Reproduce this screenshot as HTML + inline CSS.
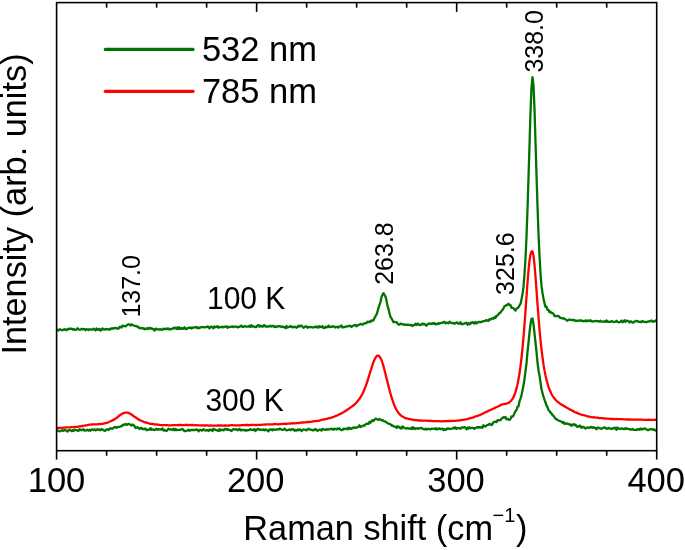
<!DOCTYPE html>
<html><head><meta charset="utf-8"><title>Raman spectra</title>
<style>
html,body{margin:0;padding:0;background:#fff;}
svg{display:block;}
text{font-family:"Liberation Sans",sans-serif;fill:#000;}
</style></head><body>
<svg width="685" height="550" viewBox="0 0 685 550">
<rect x="0" y="0" width="685" height="550" fill="#fff"/>
<clipPath id="plot"><rect x="56.5" y="2.6" width="600.2" height="448"/></clipPath>
<g fill="none" stroke-linejoin="round" stroke-linecap="round" stroke-width="2.3" clip-path="url(#plot)">
<path stroke="#007300" d="M56.5,430.2 L57.5,430.7 L58.5,430.7 L59.5,431.4 L60.5,431.0 L61.5,430.5 L62.5,430.5 L63.5,430.8 L64.5,429.9 L65.5,430.3 L66.5,430.8 L67.5,431.5 L68.5,430.2 L69.5,430.2 L70.5,430.4 L71.5,431.1 L72.5,430.2 L73.5,431.1 L74.5,429.6 L75.5,430.1 L76.5,430.1 L77.5,430.7 L78.5,430.8 L79.5,429.2 L80.5,429.6 L81.5,430.3 L82.5,429.7 L83.5,429.2 L84.5,430.7 L85.5,430.4 L86.5,430.4 L87.5,429.7 L88.5,430.7 L89.5,429.8 L90.5,430.7 L91.5,429.4 L92.5,429.4 L93.5,430.0 L94.5,429.4 L95.5,430.3 L96.5,430.0 L97.5,429.2 L98.5,429.8 L99.5,429.5 L100.5,430.2 L101.5,429.2 L102.5,429.3 L103.5,430.2 L104.5,430.8 L105.5,430.6 L106.5,429.3 L107.5,429.3 L108.5,430.0 L109.5,428.9 L110.5,428.2 L111.5,428.7 L112.5,428.8 L113.5,427.8 L114.5,427.1 L115.5,427.0 L116.5,428.0 L117.5,426.9 L118.5,426.9 L119.5,426.8 L120.5,426.7 L121.5,425.7 L122.5,425.8 L123.5,424.6 L124.5,424.6 L125.5,423.9 L126.5,425.1 L127.5,424.3 L128.5,423.9 L129.5,424.3 L130.5,424.7 L131.5,425.6 L132.5,424.5 L133.5,425.2 L134.5,426.0 L135.5,428.0 L136.5,427.6 L137.5,427.2 L138.5,428.0 L139.5,429.1 L140.5,427.9 L141.5,428.0 L142.5,429.2 L143.5,428.9 L144.5,429.1 L145.5,428.5 L146.5,430.2 L147.5,430.1 L148.5,429.5 L149.5,429.7 L150.5,428.1 L151.5,429.8 L152.5,429.3 L153.5,429.8 L154.5,430.0 L155.5,429.4 L156.5,428.6 L157.5,429.9 L158.5,429.2 L159.5,429.5 L160.5,429.4 L161.5,429.6 L162.5,428.4 L163.5,430.6 L164.5,430.0 L165.5,430.5 L166.5,431.1 L167.5,429.9 L168.5,428.8 L169.5,429.3 L170.5,429.2 L171.5,429.6 L172.5,430.0 L173.5,428.7 L174.5,430.2 L175.5,429.0 L176.5,430.2 L177.5,429.9 L178.5,429.8 L179.5,429.9 L180.5,429.7 L181.5,429.6 L182.5,429.0 L183.5,430.0 L184.5,431.2 L185.5,431.2 L186.5,430.8 L187.5,430.5 L188.5,429.6 L189.5,430.9 L190.5,430.0 L191.5,430.0 L192.5,429.8 L193.5,430.1 L194.5,429.8 L195.5,430.0 L196.5,429.4 L197.5,429.8 L198.5,431.4 L199.5,430.0 L200.5,429.9 L201.5,430.4 L202.5,430.5 L203.5,429.3 L204.5,429.9 L205.5,430.6 L206.5,430.2 L207.5,430.1 L208.5,431.0 L209.5,429.6 L210.5,430.1 L211.5,429.7 L212.5,431.0 L213.5,428.8 L214.5,429.6 L215.5,429.7 L216.5,430.4 L217.5,430.4 L218.5,430.9 L219.5,429.1 L220.5,430.5 L221.5,429.8 L222.5,429.6 L223.5,430.4 L224.5,429.4 L225.5,428.7 L226.5,429.8 L227.5,429.1 L228.5,429.6 L229.5,430.2 L230.5,430.2 L231.5,431.0 L232.5,429.9 L233.5,429.1 L234.5,429.5 L235.5,429.4 L236.5,429.2 L237.5,430.3 L238.5,429.6 L239.5,428.8 L240.5,430.4 L241.5,429.9 L242.5,430.2 L243.5,430.0 L244.5,430.4 L245.5,430.0 L246.5,430.7 L247.5,430.2 L248.5,430.2 L249.5,430.2 L250.5,429.1 L251.5,429.9 L252.5,429.8 L253.5,430.1 L254.5,429.1 L255.5,431.0 L256.5,430.0 L257.5,429.2 L258.5,428.9 L259.5,429.8 L260.5,429.9 L261.5,429.5 L262.5,430.0 L263.5,429.5 L264.5,430.3 L265.5,429.5 L266.5,429.9 L267.5,430.5 L268.5,431.3 L269.5,429.3 L270.5,429.6 L271.5,429.4 L272.5,430.4 L273.5,429.2 L274.5,429.6 L275.5,429.9 L276.5,429.3 L277.5,429.3 L278.5,429.6 L279.5,428.6 L280.5,429.0 L281.5,429.6 L282.5,429.9 L283.5,429.7 L284.5,428.7 L285.5,429.6 L286.5,430.3 L287.5,430.2 L288.5,429.8 L289.5,429.3 L290.5,430.2 L291.5,429.5 L292.5,429.1 L293.5,429.3 L294.5,430.7 L295.5,429.9 L296.5,430.5 L297.5,429.5 L298.5,430.3 L299.5,429.4 L300.5,429.7 L301.5,431.1 L302.5,430.2 L303.5,429.4 L304.5,429.7 L305.5,429.9 L306.5,430.4 L307.5,429.4 L308.5,428.6 L309.5,429.5 L310.5,429.7 L311.5,429.7 L312.5,430.4 L313.5,429.8 L314.5,430.1 L315.5,428.9 L316.5,430.1 L317.5,430.9 L318.5,430.0 L319.5,429.7 L320.5,429.6 L321.5,430.6 L322.5,428.9 L323.5,429.4 L324.5,429.7 L325.5,429.9 L326.5,429.1 L327.5,429.6 L328.5,429.2 L329.5,429.4 L330.5,429.2 L331.5,428.6 L332.5,429.2 L333.5,429.8 L334.5,428.6 L335.5,429.0 L336.5,429.5 L337.5,428.4 L338.5,429.1 L339.5,428.3 L340.5,429.6 L341.5,430.2 L342.5,430.1 L343.5,428.6 L344.5,429.1 L345.5,428.7 L346.5,428.6 L347.5,429.4 L348.5,427.6 L349.5,428.9 L350.5,428.1 L351.5,428.9 L352.5,428.0 L353.5,427.4 L354.5,427.8 L355.5,427.9 L356.5,427.3 L357.5,427.4 L358.5,426.6 L359.5,425.3 L360.5,427.0 L361.5,426.6 L362.5,425.9 L363.5,425.5 L364.5,425.7 L365.5,424.4 L366.5,423.8 L367.5,423.6 L368.5,423.9 L369.5,421.8 L370.5,422.8 L371.5,421.1 L372.5,420.2 L373.5,421.1 L374.5,419.8 L375.5,418.7 L376.5,418.9 L377.5,419.6 L378.5,419.8 L379.5,418.9 L380.5,419.7 L381.5,420.3 L382.5,419.9 L383.5,421.1 L384.5,421.4 L385.5,421.7 L386.5,422.3 L387.5,423.2 L388.5,423.6 L389.5,423.8 L390.5,424.3 L391.5,425.7 L392.5,425.5 L393.5,426.2 L394.5,426.7 L395.5,426.6 L396.5,427.9 L397.5,426.2 L398.5,427.4 L399.5,426.9 L400.5,428.4 L401.5,428.5 L402.5,426.4 L403.5,427.1 L404.5,428.2 L405.5,428.4 L406.5,428.5 L407.5,428.0 L408.5,428.5 L409.5,428.6 L410.5,428.3 L411.5,429.0 L412.5,427.1 L413.5,428.9 L414.5,427.9 L415.5,429.1 L416.5,428.4 L417.5,428.1 L418.5,428.9 L419.5,428.1 L420.5,428.1 L421.5,427.8 L422.5,428.7 L423.5,429.1 L424.5,429.4 L425.5,428.7 L426.5,429.5 L427.5,428.8 L428.5,428.8 L429.5,429.2 L430.5,429.5 L431.5,428.6 L432.5,428.7 L433.5,428.8 L434.5,428.9 L435.5,428.3 L436.5,429.5 L437.5,428.6 L438.5,429.1 L439.5,428.3 L440.5,429.1 L441.5,429.1 L442.5,428.6 L443.5,430.1 L444.5,429.0 L445.5,429.9 L446.5,429.4 L447.5,428.4 L448.5,428.5 L449.5,429.0 L450.5,428.8 L451.5,428.7 L452.5,428.5 L453.5,427.6 L454.5,428.5 L455.5,427.3 L456.5,428.8 L457.5,428.1 L458.5,428.1 L459.5,428.4 L460.5,428.7 L461.5,427.6 L462.5,427.3 L463.5,427.7 L464.5,427.1 L465.5,427.7 L466.5,429.3 L467.5,427.6 L468.5,428.6 L469.5,427.3 L470.5,428.3 L471.5,427.8 L472.5,427.9 L473.5,428.2 L474.5,428.9 L475.5,427.8 L476.5,427.7 L477.5,426.9 L478.5,427.7 L479.5,427.1 L480.5,427.6 L481.5,426.9 L482.5,427.8 L483.5,425.3 L484.5,426.1 L485.5,426.5 L486.5,425.5 L487.5,424.9 L488.5,424.8 L489.5,423.8 L490.5,424.3 L491.5,425.2 L492.5,424.1 L493.5,422.2 L494.5,421.9 L495.5,421.7 L496.5,422.1 L497.5,420.4 L498.5,420.0 L499.5,420.5 L500.5,420.0 L501.5,418.8 L502.5,417.9 L503.5,417.2 L504.5,417.6 L505.5,417.0 L506.5,419.4 L507.5,418.8 L508.5,419.5 L509.5,420.0 L510.5,418.9 L511.5,416.5 L512.5,416.7 L513.5,415.6 L514.5,413.1 L515.5,411.3 L516.5,410.0 L517.5,406.9 L518.5,406.4 L519.5,401.2 L520.5,398.6 L521.5,395.1 L522.5,390.5 L523.5,385.3 L524.5,379.0 L525.5,371.2 L526.5,363.4 L527.5,351.8 L528.5,342.9 L529.5,332.4 L530.5,324.3 L531.5,319.0 L532.5,318.4 L533.5,324.1 L534.5,333.3 L535.5,342.6 L536.5,351.6 L537.5,362.3 L538.5,370.5 L539.5,375.4 L540.5,382.7 L541.5,389.3 L542.5,393.0 L543.5,396.6 L544.5,399.7 L545.5,402.5 L546.5,405.2 L547.5,407.2 L548.5,410.0 L549.5,411.0 L550.5,412.5 L551.5,413.3 L552.5,415.2 L553.5,415.8 L554.5,417.2 L555.5,418.8 L556.5,419.1 L557.5,419.9 L558.5,420.5 L559.5,420.9 L560.5,421.3 L561.5,421.7 L562.5,422.8 L563.5,422.0 L564.5,423.9 L565.5,423.5 L566.5,423.3 L567.5,423.8 L568.5,423.9 L569.5,424.7 L570.5,424.4 L571.5,425.8 L572.5,424.8 L573.5,424.1 L574.5,425.2 L575.5,424.6 L576.5,426.0 L577.5,426.8 L578.5,426.7 L579.5,425.6 L580.5,426.1 L581.5,427.8 L582.5,427.0 L583.5,426.9 L584.5,427.7 L585.5,428.5 L586.5,428.0 L587.5,427.4 L588.5,427.6 L589.5,427.9 L590.5,427.2 L591.5,427.0 L592.5,427.8 L593.5,427.2 L594.5,427.8 L595.5,428.0 L596.5,429.3 L597.5,427.5 L598.5,428.0 L599.5,428.0 L600.5,428.5 L601.5,428.9 L602.5,428.0 L603.5,427.8 L604.5,427.4 L605.5,427.9 L606.5,428.8 L607.5,428.5 L608.5,427.9 L609.5,428.4 L610.5,428.6 L611.5,429.0 L612.5,428.3 L613.5,428.6 L614.5,427.6 L615.5,428.1 L616.5,429.8 L617.5,427.5 L618.5,428.7 L619.5,429.0 L620.5,428.7 L621.5,428.4 L622.5,428.9 L623.5,429.0 L624.5,429.0 L625.5,427.9 L626.5,429.0 L627.5,428.6 L628.5,428.8 L629.5,429.3 L630.5,429.5 L631.5,429.7 L632.5,428.9 L633.5,429.8 L634.5,429.9 L635.5,429.9 L636.5,430.1 L637.5,429.2 L638.5,429.2 L639.5,429.8 L640.5,428.5 L641.5,429.5 L642.5,429.0 L643.5,429.1 L644.5,428.3 L645.5,428.8 L646.5,429.4 L647.5,430.0 L648.5,430.0 L649.5,429.4 L650.5,429.3 L651.5,428.9 L652.5,429.7 L653.5,429.3 L654.5,429.9 L655.5,430.6 L656.5,429.5"/>
<path stroke="#ff0000" d="M56.5,427.8 L57.5,427.8 L58.5,427.8 L59.5,427.8 L60.5,427.8 L61.5,427.8 L62.5,427.8 L63.5,427.7 L64.5,427.7 L65.5,427.5 L66.5,427.4 L67.5,427.4 L68.5,427.3 L69.5,427.3 L70.5,427.3 L71.5,427.1 L72.5,427.1 L73.5,427.1 L74.5,427.0 L75.5,426.9 L76.5,426.9 L77.5,426.8 L78.5,426.5 L79.5,426.3 L80.5,426.3 L81.5,426.1 L82.5,426.0 L83.5,425.9 L84.5,425.7 L85.5,425.4 L86.5,425.4 L87.5,425.2 L88.5,424.8 L89.5,424.7 L90.5,424.7 L91.5,424.5 L92.5,424.5 L93.5,424.4 L94.5,424.3 L95.5,424.3 L96.5,424.4 L97.5,424.3 L98.5,424.2 L99.5,424.2 L100.5,424.2 L101.5,424.0 L102.5,423.8 L103.5,423.6 L104.5,423.3 L105.5,423.1 L106.5,422.9 L107.5,422.6 L108.5,422.2 L109.5,421.8 L110.5,421.3 L111.5,420.9 L112.5,420.4 L113.5,419.9 L114.5,419.3 L115.5,418.6 L116.5,418.0 L117.5,417.2 L118.5,416.3 L119.5,415.5 L120.5,414.8 L121.5,414.2 L122.5,413.6 L123.5,413.1 L124.5,412.8 L125.5,412.6 L126.5,412.6 L127.5,412.6 L128.5,412.9 L129.5,413.3 L130.5,413.9 L131.5,414.5 L132.5,415.2 L133.5,416.0 L134.5,416.7 L135.5,417.3 L136.5,418.0 L137.5,418.7 L138.5,419.4 L139.5,419.9 L140.5,420.5 L141.5,420.8 L142.5,421.3 L143.5,421.8 L144.5,422.1 L145.5,422.5 L146.5,422.6 L147.5,422.8 L148.5,423.2 L149.5,423.6 L150.5,423.8 L151.5,423.9 L152.5,424.0 L153.5,424.2 L154.5,424.5 L155.5,424.5 L156.5,424.5 L157.5,424.6 L158.5,424.7 L159.5,425.0 L160.5,425.1 L161.5,425.1 L162.5,425.1 L163.5,425.1 L164.5,425.2 L165.5,425.2 L166.5,425.1 L167.5,425.2 L168.5,425.3 L169.5,425.3 L170.5,425.3 L171.5,425.3 L172.5,425.2 L173.5,425.2 L174.5,425.2 L175.5,425.1 L176.5,425.1 L177.5,425.1 L178.5,425.1 L179.5,425.0 L180.5,424.9 L181.5,425.0 L182.5,425.1 L183.5,425.1 L184.5,425.0 L185.5,424.8 L186.5,425.0 L187.5,425.0 L188.5,424.9 L189.5,425.1 L190.5,425.1 L191.5,425.0 L192.5,425.0 L193.5,425.1 L194.5,425.3 L195.5,425.2 L196.5,425.2 L197.5,425.3 L198.5,425.4 L199.5,425.4 L200.5,425.4 L201.5,425.5 L202.5,425.4 L203.5,425.4 L204.5,425.5 L205.5,425.5 L206.5,425.4 L207.5,425.4 L208.5,425.6 L209.5,425.7 L210.5,425.5 L211.5,425.6 L212.5,425.6 L213.5,425.6 L214.5,425.7 L215.5,425.7 L216.5,425.6 L217.5,425.5 L218.5,425.5 L219.5,425.5 L220.5,425.3 L221.5,425.5 L222.5,425.7 L223.5,425.6 L224.5,425.5 L225.5,425.5 L226.5,425.6 L227.5,425.6 L228.5,425.5 L229.5,425.3 L230.5,425.3 L231.5,425.2 L232.5,425.2 L233.5,425.3 L234.5,425.3 L235.5,425.3 L236.5,425.3 L237.5,425.4 L238.5,425.4 L239.5,425.3 L240.5,425.3 L241.5,425.2 L242.5,425.1 L243.5,425.2 L244.5,425.1 L245.5,425.0 L246.5,425.0 L247.5,425.0 L248.5,425.2 L249.5,425.1 L250.5,425.0 L251.5,424.9 L252.5,424.8 L253.5,424.8 L254.5,424.9 L255.5,425.1 L256.5,425.0 L257.5,424.8 L258.5,424.8 L259.5,424.8 L260.5,424.8 L261.5,424.8 L262.5,424.7 L263.5,424.7 L264.5,424.6 L265.5,424.5 L266.5,424.4 L267.5,424.4 L268.5,424.4 L269.5,424.4 L270.5,424.4 L271.5,424.3 L272.5,424.4 L273.5,424.3 L274.5,424.1 L275.5,424.1 L276.5,424.2 L277.5,424.3 L278.5,424.3 L279.5,424.1 L280.5,424.1 L281.5,424.0 L282.5,423.9 L283.5,423.9 L284.5,423.7 L285.5,423.8 L286.5,423.9 L287.5,423.7 L288.5,423.6 L289.5,423.6 L290.5,423.5 L291.5,423.4 L292.5,423.2 L293.5,423.3 L294.5,423.3 L295.5,423.3 L296.5,423.2 L297.5,423.2 L298.5,423.0 L299.5,422.8 L300.5,422.7 L301.5,422.5 L302.5,422.6 L303.5,422.5 L304.5,422.4 L305.5,422.4 L306.5,422.2 L307.5,422.0 L308.5,422.0 L309.5,421.8 L310.5,421.8 L311.5,421.7 L312.5,421.5 L313.5,421.3 L314.5,421.2 L315.5,421.1 L316.5,421.0 L317.5,420.9 L318.5,420.8 L319.5,420.5 L320.5,420.2 L321.5,420.0 L322.5,419.7 L323.5,419.5 L324.5,419.3 L325.5,419.1 L326.5,418.9 L327.5,418.7 L328.5,418.3 L329.5,418.0 L330.5,417.8 L331.5,417.6 L332.5,417.2 L333.5,416.9 L334.5,416.5 L335.5,416.0 L336.5,415.6 L337.5,415.3 L338.5,414.8 L339.5,414.2 L340.5,413.9 L341.5,413.3 L342.5,412.7 L343.5,412.2 L344.5,411.5 L345.5,410.9 L346.5,410.3 L347.5,409.5 L348.5,408.9 L349.5,408.2 L350.5,407.6 L351.5,406.9 L352.5,406.0 L353.5,405.3 L354.5,404.5 L355.5,403.6 L356.5,402.5 L357.5,401.3 L358.5,400.1 L359.5,398.8 L360.5,397.2 L361.5,395.5 L362.5,393.8 L363.5,391.5 L364.5,389.1 L365.5,386.6 L366.5,383.8 L367.5,380.8 L368.5,377.6 L369.5,374.3 L370.5,371.2 L371.5,368.0 L372.5,364.8 L373.5,362.0 L374.5,359.6 L375.5,357.7 L376.5,356.3 L377.5,355.6 L378.5,355.7 L379.5,356.5 L380.5,358.1 L381.5,360.1 L382.5,363.0 L383.5,366.4 L384.5,370.0 L385.5,374.1 L386.5,378.1 L387.5,382.0 L388.5,386.2 L389.5,390.1 L390.5,393.8 L391.5,397.2 L392.5,400.2 L393.5,403.0 L394.5,405.7 L395.5,408.0 L396.5,409.8 L397.5,411.4 L398.5,412.9 L399.5,414.0 L400.5,415.1 L401.5,416.0 L402.5,416.5 L403.5,417.1 L404.5,417.7 L405.5,418.2 L406.5,418.4 L407.5,418.7 L408.5,418.9 L409.5,419.1 L410.5,419.2 L411.5,419.5 L412.5,419.7 L413.5,419.8 L414.5,420.0 L415.5,420.1 L416.5,420.2 L417.5,420.4 L418.5,420.5 L419.5,420.4 L420.5,420.5 L421.5,420.6 L422.5,420.6 L423.5,420.6 L424.5,420.7 L425.5,420.7 L426.5,420.7 L427.5,420.9 L428.5,420.9 L429.5,420.9 L430.5,420.9 L431.5,421.0 L432.5,421.1 L433.5,421.1 L434.5,421.1 L435.5,421.1 L436.5,421.1 L437.5,421.3 L438.5,421.2 L439.5,421.1 L440.5,421.3 L441.5,421.3 L442.5,421.2 L443.5,421.2 L444.5,421.3 L445.5,421.1 L446.5,421.0 L447.5,421.1 L448.5,421.0 L449.5,421.0 L450.5,421.0 L451.5,421.0 L452.5,420.9 L453.5,420.9 L454.5,420.9 L455.5,420.8 L456.5,420.7 L457.5,420.7 L458.5,420.6 L459.5,420.4 L460.5,420.2 L461.5,420.1 L462.5,419.9 L463.5,419.9 L464.5,419.6 L465.5,419.4 L466.5,419.3 L467.5,419.0 L468.5,418.7 L469.5,418.5 L470.5,418.1 L471.5,417.9 L472.5,417.7 L473.5,417.4 L474.5,416.9 L475.5,416.5 L476.5,416.2 L477.5,415.9 L478.5,415.5 L479.5,415.2 L480.5,414.7 L481.5,414.3 L482.5,413.8 L483.5,413.3 L484.5,412.8 L485.5,412.3 L486.5,411.9 L487.5,411.4 L488.5,410.8 L489.5,410.4 L490.5,410.0 L491.5,409.5 L492.5,409.0 L493.5,408.5 L494.5,408.1 L495.5,407.6 L496.5,407.0 L497.5,406.6 L498.5,406.2 L499.5,405.7 L500.5,405.1 L501.5,404.6 L502.5,404.3 L503.5,404.2 L504.5,403.9 L505.5,403.8 L506.5,403.7 L507.5,403.3 L508.5,402.9 L509.5,402.3 L510.5,401.3 L511.5,400.2 L512.5,398.8 L513.5,397.1 L514.5,394.8 L515.5,391.9 L516.5,388.4 L517.5,384.3 L518.5,379.3 L519.5,373.3 L520.5,366.3 L521.5,358.0 L522.5,348.2 L523.5,337.1 L524.5,324.6 L525.5,311.0 L526.5,296.8 L527.5,282.8 L528.5,270.4 L529.5,260.6 L530.5,254.4 L531.5,251.5 L532.5,251.4 L533.5,255.8 L534.5,264.5 L535.5,276.5 L536.5,290.2 L537.5,304.0 L538.5,317.2 L539.5,329.3 L540.5,340.0 L541.5,349.4 L542.5,357.4 L543.5,364.4 L544.5,370.4 L545.5,375.4 L546.5,379.7 L547.5,383.4 L548.5,386.8 L549.5,389.5 L550.5,391.8 L551.5,394.0 L552.5,395.8 L553.5,397.2 L554.5,398.5 L555.5,399.8 L556.5,400.8 L557.5,401.7 L558.5,402.4 L559.5,403.2 L560.5,403.9 L561.5,404.6 L562.5,405.1 L563.5,405.7 L564.5,406.4 L565.5,406.9 L566.5,407.5 L567.5,408.0 L568.5,408.7 L569.5,409.3 L570.5,409.6 L571.5,410.2 L572.5,410.7 L573.5,411.3 L574.5,412.0 L575.5,412.3 L576.5,412.6 L577.5,413.1 L578.5,413.7 L579.5,414.0 L580.5,414.4 L581.5,414.6 L582.5,414.9 L583.5,415.1 L584.5,415.3 L585.5,415.7 L586.5,416.0 L587.5,416.3 L588.5,416.5 L589.5,416.6 L590.5,416.8 L591.5,417.1 L592.5,417.3 L593.5,417.2 L594.5,417.4 L595.5,417.7 L596.5,417.7 L597.5,417.7 L598.5,417.9 L599.5,418.1 L600.5,418.1 L601.5,418.1 L602.5,418.2 L603.5,418.4 L604.5,418.5 L605.5,418.6 L606.5,418.7 L607.5,418.6 L608.5,418.7 L609.5,418.9 L610.5,418.9 L611.5,419.0 L612.5,419.0 L613.5,418.9 L614.5,419.1 L615.5,419.1 L616.5,419.0 L617.5,419.1 L618.5,419.2 L619.5,419.2 L620.5,419.2 L621.5,419.2 L622.5,419.2 L623.5,419.3 L624.5,419.4 L625.5,419.3 L626.5,419.4 L627.5,419.5 L628.5,419.4 L629.5,419.5 L630.5,419.6 L631.5,419.5 L632.5,419.6 L633.5,419.7 L634.5,419.6 L635.5,419.7 L636.5,419.7 L637.5,419.7 L638.5,419.7 L639.5,419.7 L640.5,419.7 L641.5,419.7 L642.5,419.7 L643.5,419.8 L644.5,419.9 L645.5,419.8 L646.5,419.9 L647.5,419.9 L648.5,419.7 L649.5,419.8 L650.5,419.8 L651.5,419.8 L652.5,419.9 L653.5,419.8 L654.5,419.7 L655.5,419.8 L656.5,419.8"/>
<path stroke="#007300" d="M56.5,329.2 L57.5,329.8 L58.5,330.6 L59.5,329.5 L60.5,329.4 L61.5,330.1 L62.5,330.0 L63.5,329.8 L64.5,329.2 L65.5,329.7 L66.5,330.2 L67.5,328.9 L68.5,329.4 L69.5,328.5 L70.5,328.9 L71.5,328.6 L72.5,329.5 L73.5,328.9 L74.5,329.8 L75.5,329.8 L76.5,329.5 L77.5,328.3 L78.5,329.3 L79.5,329.6 L80.5,329.7 L81.5,328.7 L82.5,329.3 L83.5,329.0 L84.5,329.1 L85.5,330.2 L86.5,329.1 L87.5,329.5 L88.5,330.1 L89.5,329.2 L90.5,329.4 L91.5,329.6 L92.5,329.5 L93.5,328.7 L94.5,329.5 L95.5,330.3 L96.5,328.5 L97.5,329.9 L98.5,329.4 L99.5,328.9 L100.5,330.6 L101.5,329.8 L102.5,328.5 L103.5,329.3 L104.5,329.5 L105.5,329.0 L106.5,329.5 L107.5,329.0 L108.5,329.4 L109.5,329.8 L110.5,328.5 L111.5,328.9 L112.5,328.4 L113.5,328.7 L114.5,327.8 L115.5,328.0 L116.5,328.1 L117.5,328.7 L118.5,328.6 L119.5,326.9 L120.5,327.0 L121.5,327.6 L122.5,325.6 L123.5,326.2 L124.5,326.0 L125.5,326.4 L126.5,325.6 L127.5,324.7 L128.5,324.4 L129.5,324.3 L130.5,325.5 L131.5,324.4 L132.5,324.8 L133.5,325.6 L134.5,325.7 L135.5,326.1 L136.5,325.9 L137.5,327.0 L138.5,327.0 L139.5,328.3 L140.5,328.2 L141.5,328.0 L142.5,328.6 L143.5,328.2 L144.5,329.2 L145.5,328.6 L146.5,329.1 L147.5,328.0 L148.5,329.1 L149.5,327.9 L150.5,327.8 L151.5,328.9 L152.5,328.6 L153.5,329.3 L154.5,330.6 L155.5,328.7 L156.5,328.9 L157.5,329.4 L158.5,329.6 L159.5,329.2 L160.5,329.2 L161.5,329.8 L162.5,329.6 L163.5,328.6 L164.5,329.2 L165.5,329.2 L166.5,328.5 L167.5,329.2 L168.5,328.5 L169.5,329.6 L170.5,329.1 L171.5,329.0 L172.5,328.5 L173.5,328.7 L174.5,327.5 L175.5,328.0 L176.5,328.9 L177.5,327.3 L178.5,329.1 L179.5,327.4 L180.5,328.9 L181.5,327.9 L182.5,328.9 L183.5,328.4 L184.5,327.3 L185.5,329.0 L186.5,329.1 L187.5,328.1 L188.5,327.9 L189.5,327.9 L190.5,327.4 L191.5,328.6 L192.5,327.5 L193.5,327.8 L194.5,327.3 L195.5,327.3 L196.5,326.9 L197.5,328.4 L198.5,327.5 L199.5,328.1 L200.5,327.5 L201.5,327.0 L202.5,327.2 L203.5,327.1 L204.5,327.4 L205.5,327.2 L206.5,327.2 L207.5,326.5 L208.5,326.9 L209.5,328.4 L210.5,326.9 L211.5,326.7 L212.5,327.5 L213.5,328.2 L214.5,326.4 L215.5,327.1 L216.5,326.8 L217.5,326.1 L218.5,327.7 L219.5,327.2 L220.5,327.2 L221.5,326.7 L222.5,327.4 L223.5,326.8 L224.5,327.0 L225.5,326.4 L226.5,326.3 L227.5,327.8 L228.5,326.7 L229.5,327.1 L230.5,326.9 L231.5,326.6 L232.5,326.5 L233.5,327.2 L234.5,326.6 L235.5,326.6 L236.5,326.7 L237.5,327.4 L238.5,327.0 L239.5,326.8 L240.5,326.1 L241.5,325.6 L242.5,327.0 L243.5,326.9 L244.5,326.2 L245.5,326.5 L246.5,326.6 L247.5,326.6 L248.5,326.6 L249.5,325.7 L250.5,326.9 L251.5,325.2 L252.5,326.5 L253.5,326.3 L254.5,326.6 L255.5,327.2 L256.5,327.0 L257.5,325.4 L258.5,325.1 L259.5,326.7 L260.5,325.6 L261.5,326.3 L262.5,326.8 L263.5,325.3 L264.5,325.1 L265.5,326.6 L266.5,326.5 L267.5,326.4 L268.5,326.6 L269.5,326.1 L270.5,325.7 L271.5,326.5 L272.5,326.1 L273.5,325.7 L274.5,327.0 L275.5,326.7 L276.5,327.0 L277.5,326.2 L278.5,326.4 L279.5,326.2 L280.5,326.3 L281.5,327.0 L282.5,326.4 L283.5,327.1 L284.5,327.1 L285.5,328.2 L286.5,326.0 L287.5,327.5 L288.5,326.9 L289.5,326.9 L290.5,326.0 L291.5,326.7 L292.5,327.4 L293.5,326.9 L294.5,327.0 L295.5,326.8 L296.5,327.7 L297.5,327.0 L298.5,325.6 L299.5,326.6 L300.5,325.8 L301.5,325.6 L302.5,326.7 L303.5,327.8 L304.5,327.1 L305.5,326.3 L306.5,326.4 L307.5,327.7 L308.5,327.1 L309.5,327.1 L310.5,327.0 L311.5,327.1 L312.5,327.5 L313.5,327.4 L314.5,327.2 L315.5,326.4 L316.5,327.3 L317.5,326.6 L318.5,327.7 L319.5,326.2 L320.5,326.9 L321.5,327.0 L322.5,326.2 L323.5,328.0 L324.5,327.9 L325.5,326.7 L326.5,327.4 L327.5,327.2 L328.5,325.6 L329.5,327.1 L330.5,326.9 L331.5,326.9 L332.5,326.2 L333.5,326.7 L334.5,326.7 L335.5,327.5 L336.5,327.0 L337.5,326.7 L338.5,327.7 L339.5,326.3 L340.5,326.4 L341.5,325.5 L342.5,327.5 L343.5,327.1 L344.5,327.0 L345.5,326.8 L346.5,326.4 L347.5,326.4 L348.5,326.0 L349.5,325.9 L350.5,326.0 L351.5,326.8 L352.5,326.1 L353.5,325.6 L354.5,325.2 L355.5,325.0 L356.5,326.3 L357.5,325.4 L358.5,325.0 L359.5,324.6 L360.5,323.9 L361.5,324.3 L362.5,324.7 L363.5,323.7 L364.5,323.5 L365.5,323.2 L366.5,323.1 L367.5,321.7 L368.5,322.2 L369.5,321.4 L370.5,322.0 L371.5,320.4 L372.5,320.6 L373.5,320.3 L374.5,318.0 L375.5,316.2 L376.5,314.6 L377.5,311.7 L378.5,307.8 L379.5,304.9 L380.5,302.0 L381.5,297.1 L382.5,294.6 L383.5,293.1 L384.5,294.9 L385.5,296.6 L386.5,300.4 L387.5,306.0 L388.5,308.7 L389.5,313.5 L390.5,316.8 L391.5,318.3 L392.5,320.2 L393.5,322.3 L394.5,321.8 L395.5,322.2 L396.5,322.2 L397.5,323.4 L398.5,324.6 L399.5,324.6 L400.5,323.6 L401.5,323.8 L402.5,324.1 L403.5,324.7 L404.5,324.5 L405.5,324.8 L406.5,324.9 L407.5,324.6 L408.5,324.8 L409.5,325.0 L410.5,324.8 L411.5,325.2 L412.5,326.0 L413.5,325.2 L414.5,324.9 L415.5,323.8 L416.5,325.0 L417.5,323.6 L418.5,323.9 L419.5,325.2 L420.5,325.1 L421.5,324.5 L422.5,323.5 L423.5,324.3 L424.5,324.0 L425.5,324.8 L426.5,325.7 L427.5,324.4 L428.5,323.7 L429.5,323.4 L430.5,324.0 L431.5,323.8 L432.5,323.1 L433.5,323.9 L434.5,323.0 L435.5,324.3 L436.5,324.2 L437.5,324.2 L438.5,323.1 L439.5,323.6 L440.5,323.2 L441.5,322.9 L442.5,322.8 L443.5,322.2 L444.5,322.0 L445.5,323.3 L446.5,322.7 L447.5,322.9 L448.5,323.4 L449.5,321.8 L450.5,322.4 L451.5,323.0 L452.5,323.2 L453.5,322.8 L454.5,323.8 L455.5,323.3 L456.5,322.5 L457.5,322.7 L458.5,323.8 L459.5,323.6 L460.5,322.2 L461.5,324.2 L462.5,323.8 L463.5,324.2 L464.5,323.2 L465.5,323.2 L466.5,322.7 L467.5,324.7 L468.5,323.2 L469.5,324.3 L470.5,322.8 L471.5,323.3 L472.5,322.1 L473.5,322.8 L474.5,323.5 L475.5,322.0 L476.5,323.4 L477.5,322.8 L478.5,321.8 L479.5,322.0 L480.5,321.9 L481.5,322.0 L482.5,321.5 L483.5,321.1 L484.5,321.2 L485.5,320.6 L486.5,320.1 L487.5,320.6 L488.5,320.9 L489.5,319.1 L490.5,319.6 L491.5,318.8 L492.5,318.1 L493.5,318.7 L494.5,317.3 L495.5,317.9 L496.5,315.7 L497.5,315.6 L498.5,314.3 L499.5,312.9 L500.5,312.6 L501.5,310.8 L502.5,310.0 L503.5,308.3 L504.5,306.3 L505.5,305.8 L506.5,305.0 L507.5,305.0 L508.5,303.7 L509.5,305.0 L510.5,305.1 L511.5,307.9 L512.5,307.9 L513.5,308.2 L514.5,309.7 L515.5,310.5 L516.5,308.6 L517.5,308.2 L518.5,307.3 L519.5,305.4 L520.5,303.9 L521.5,299.4 L522.5,294.0 L523.5,286.7 L524.5,274.2 L525.5,258.8 L526.5,236.5 L527.5,209.5 L528.5,177.5 L529.5,145.6 L530.5,111.7 L531.5,87.3 L532.5,77.2 L533.5,85.5 L534.5,108.9 L535.5,142.2 L536.5,174.5 L537.5,206.1 L538.5,233.9 L539.5,255.6 L540.5,273.6 L541.5,285.7 L542.5,293.0 L543.5,298.5 L544.5,303.1 L545.5,306.9 L546.5,306.7 L547.5,309.8 L548.5,310.0 L549.5,312.3 L550.5,311.8 L551.5,313.0 L552.5,313.0 L553.5,313.9 L554.5,316.0 L555.5,316.2 L556.5,316.0 L557.5,316.2 L558.5,316.0 L559.5,317.3 L560.5,317.9 L561.5,318.2 L562.5,318.5 L563.5,318.1 L564.5,319.0 L565.5,319.3 L566.5,320.3 L567.5,320.8 L568.5,319.8 L569.5,319.5 L570.5,320.1 L571.5,319.9 L572.5,319.9 L573.5,320.4 L574.5,319.9 L575.5,321.0 L576.5,320.7 L577.5,321.0 L578.5,320.7 L579.5,320.5 L580.5,320.4 L581.5,320.9 L582.5,320.7 L583.5,321.3 L584.5,321.2 L585.5,320.4 L586.5,321.3 L587.5,320.4 L588.5,320.9 L589.5,321.1 L590.5,320.1 L591.5,321.4 L592.5,321.5 L593.5,321.3 L594.5,321.2 L595.5,321.2 L596.5,320.9 L597.5,321.3 L598.5,321.1 L599.5,321.6 L600.5,320.8 L601.5,321.7 L602.5,321.6 L603.5,321.5 L604.5,321.3 L605.5,321.9 L606.5,320.5 L607.5,321.9 L608.5,321.7 L609.5,321.8 L610.5,321.8 L611.5,321.2 L612.5,321.4 L613.5,322.0 L614.5,321.9 L615.5,321.7 L616.5,320.7 L617.5,321.9 L618.5,322.3 L619.5,322.2 L620.5,321.7 L621.5,320.6 L622.5,322.2 L623.5,321.5 L624.5,320.2 L625.5,321.8 L626.5,320.7 L627.5,320.8 L628.5,321.2 L629.5,322.4 L630.5,321.4 L631.5,321.7 L632.5,322.7 L633.5,322.6 L634.5,321.5 L635.5,321.4 L636.5,320.8 L637.5,321.1 L638.5,321.8 L639.5,321.8 L640.5,321.6 L641.5,322.2 L642.5,321.1 L643.5,321.5 L644.5,322.0 L645.5,321.9 L646.5,322.2 L647.5,321.7 L648.5,321.3 L649.5,321.7 L650.5,320.9 L651.5,320.5 L652.5,321.8 L653.5,321.4 L654.5,321.6 L655.5,320.4 L656.5,321.2"/>
</g>
<g stroke-linecap="round" stroke-width="3.2" fill="none">
<line x1="105.3" y1="49.4" x2="193" y2="49.4" stroke="#007300"/>
<line x1="105.3" y1="91.3" x2="193" y2="91.3" stroke="#ff0000"/>
</g>
<rect x="56.6" y="2.6" width="600.1" height="448.1" fill="none" stroke="#000" stroke-width="1.6"/>
<g stroke="#000" stroke-width="1.6" stroke-linecap="butt">
<line x1="56.6" y1="450.7" x2="56.6" y2="459.59999999999997"/>
<line x1="106.61" y1="450.7" x2="106.61" y2="455.8"/>
<line x1="106.61" y1="2.6" x2="106.61" y2="7.699999999999999"/>
<line x1="156.62" y1="450.7" x2="156.62" y2="455.8"/>
<line x1="156.62" y1="2.6" x2="156.62" y2="7.699999999999999"/>
<line x1="206.62" y1="450.7" x2="206.62" y2="455.8"/>
<line x1="206.62" y1="2.6" x2="206.62" y2="7.699999999999999"/>
<line x1="256.63" y1="450.7" x2="256.63" y2="459.59999999999997"/>
<line x1="256.63" y1="2.6" x2="256.63" y2="11.9"/>
<line x1="306.64" y1="450.7" x2="306.64" y2="455.8"/>
<line x1="306.64" y1="2.6" x2="306.64" y2="7.699999999999999"/>
<line x1="356.65" y1="450.7" x2="356.65" y2="455.8"/>
<line x1="356.65" y1="2.6" x2="356.65" y2="7.699999999999999"/>
<line x1="406.66" y1="450.7" x2="406.66" y2="455.8"/>
<line x1="406.66" y1="2.6" x2="406.66" y2="7.699999999999999"/>
<line x1="456.66" y1="450.7" x2="456.66" y2="459.59999999999997"/>
<line x1="456.66" y1="2.6" x2="456.66" y2="11.9"/>
<line x1="506.67" y1="450.7" x2="506.67" y2="455.8"/>
<line x1="506.67" y1="2.6" x2="506.67" y2="7.699999999999999"/>
<line x1="556.68" y1="450.7" x2="556.68" y2="455.8"/>
<line x1="556.68" y1="2.6" x2="556.68" y2="7.699999999999999"/>
<line x1="606.69" y1="450.7" x2="606.69" y2="455.8"/>
<line x1="606.69" y1="2.6" x2="606.69" y2="7.699999999999999"/>
<line x1="656.7" y1="450.7" x2="656.7" y2="459.59999999999997"/>
</g>
<g font-size="34.5">
<text transform="translate(201.9,61.3) scale(1,1.04)">532 nm</text>
<text transform="translate(201.9,102.8) scale(1,1.04)">785 nm</text>
<text transform="translate(56.5,492.1) scale(1,1.04)" text-anchor="middle">100</text>
<text transform="translate(255.7,492.1) scale(1,1.04)" text-anchor="middle">200</text>
<text transform="translate(456,492.1) scale(1,1.04)" text-anchor="middle">300</text>
<text transform="translate(656.2,492.1) scale(1,1.04)" text-anchor="middle">400</text>
<text x="243.3" y="540.4" font-size="34.3">Raman shift (cm<tspan font-size="20" dy="-18" dx="-0.5">−1</tspan><tspan dy="18" dx="0.7">)</tspan></text>
<text transform="translate(25.8,354.6) rotate(-90)" font-size="34.3">Intensity (arb. units)</text>
</g>
<g font-size="30">
<text transform="translate(207,308.9) scale(1,1.04)">100 K</text>
<text transform="translate(205.4,411.4) scale(1,1.04)">300 K</text>
</g>
<g font-size="25">
<text transform="translate(139.6,317.6) rotate(-90) scale(1,1.04)">137.0</text>
<text transform="translate(393.4,284.8) rotate(-90) scale(1,1.04)">263.8</text>
<text transform="translate(514.3,294.9) rotate(-90) scale(1,1.04)">325.6</text>
<text transform="translate(542.7,72.6) rotate(-90) scale(1,1.04)">338.0</text>
</g>
</svg>
</body></html>
